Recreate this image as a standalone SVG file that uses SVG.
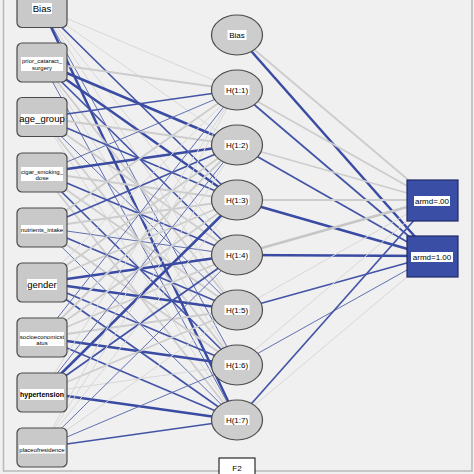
<svg xmlns="http://www.w3.org/2000/svg" width="474" height="474" viewBox="0 0 474 474">
<style>
.b1{stroke:#6270b0;stroke-width:1;fill:none}
.b2{stroke:#4354a6;stroke-width:1.7;fill:none}
.b3{stroke:#394ba2;stroke-width:2.5;fill:none}
.g1{stroke:#d8d8d8;stroke-width:1;fill:none}
.g2{stroke:#cdcdcd;stroke-width:1.8;fill:none}
.g3{stroke:#c6c6c6;stroke-width:2.6;fill:none}
.inp{fill:#c9c9c9;stroke:#4a4a4a;stroke-width:1.2}
.hid{fill:#cdcdcd;stroke:#4a4a4a;stroke-width:1.2}
.out{fill:#3b4ea6;stroke:#1e2a66;stroke-width:1.2}
.lb{fill:#ffffff}
text{font-family:"Liberation Sans",Arial,sans-serif;fill:#000000;text-anchor:middle}
.t9{font-size:9.5px}
.t8{font-size:8px}
.t6{font-size:6px}
</style>
<rect x="0" y="0" width="474" height="474" fill="#f0f0f0"/>
<path d="M3.5 -2 V471 H472 V-2" fill="none" stroke="#b8b8b8" stroke-width="1.5"/>
<g id="connectors">
<line x1="42" y1="8" x2="237" y2="90" class="g1"/>
<line x1="42" y1="8" x2="237" y2="145" class="g1"/>
<line x1="42" y1="8" x2="237" y2="200" class="b2"/>
<line x1="42" y1="8" x2="237" y2="255" class="g1"/>
<line x1="42" y1="8" x2="237" y2="310" class="g1"/>
<line x1="42" y1="8" x2="237" y2="365" class="b1"/>
<line x1="42" y1="8" x2="237" y2="420" class="b3"/>
<line x1="42" y1="62.5" x2="237" y2="90" class="g2"/>
<line x1="42" y1="62.5" x2="237" y2="145" class="b3"/>
<line x1="42" y1="62.5" x2="237" y2="200" class="b3"/>
<line x1="42" y1="62.5" x2="237" y2="255" class="b2"/>
<line x1="42" y1="62.5" x2="237" y2="310" class="g2"/>
<line x1="42" y1="62.5" x2="237" y2="365" class="g1"/>
<line x1="42" y1="62.5" x2="237" y2="420" class="b1"/>
<line x1="42" y1="117.5" x2="237" y2="90" class="b2"/>
<line x1="42" y1="117.5" x2="237" y2="145" class="g2"/>
<line x1="42" y1="117.5" x2="237" y2="200" class="b2"/>
<line x1="42" y1="117.5" x2="237" y2="255" class="g2"/>
<line x1="42" y1="117.5" x2="237" y2="310" class="b1"/>
<line x1="42" y1="117.5" x2="237" y2="365" class="g2"/>
<line x1="42" y1="117.5" x2="237" y2="420" class="g1"/>
<line x1="42" y1="172.5" x2="237" y2="90" class="b1"/>
<line x1="42" y1="172.5" x2="237" y2="145" class="b3"/>
<line x1="42" y1="172.5" x2="237" y2="200" class="g2"/>
<line x1="42" y1="172.5" x2="237" y2="255" class="b2"/>
<line x1="42" y1="172.5" x2="237" y2="310" class="g2"/>
<line x1="42" y1="172.5" x2="237" y2="365" class="b2"/>
<line x1="42" y1="172.5" x2="237" y2="420" class="g2"/>
<line x1="42" y1="227.5" x2="237" y2="90" class="g2"/>
<line x1="42" y1="227.5" x2="237" y2="145" class="b2"/>
<line x1="42" y1="227.5" x2="237" y2="200" class="g2"/>
<line x1="42" y1="227.5" x2="237" y2="255" class="b1"/>
<line x1="42" y1="227.5" x2="237" y2="310" class="b2"/>
<line x1="42" y1="227.5" x2="237" y2="365" class="g2"/>
<line x1="42" y1="227.5" x2="237" y2="420" class="b1"/>
<line x1="42" y1="282.5" x2="237" y2="90" class="g1"/>
<line x1="42" y1="282.5" x2="237" y2="145" class="g2"/>
<line x1="42" y1="282.5" x2="237" y2="200" class="g2"/>
<line x1="42" y1="282.5" x2="237" y2="255" class="b3"/>
<line x1="42" y1="282.5" x2="237" y2="310" class="b3"/>
<line x1="42" y1="282.5" x2="237" y2="365" class="b2"/>
<line x1="42" y1="282.5" x2="237" y2="420" class="b2"/>
<line x1="42" y1="337.5" x2="237" y2="90" class="b1"/>
<line x1="42" y1="337.5" x2="237" y2="145" class="g2"/>
<line x1="42" y1="337.5" x2="237" y2="200" class="g2"/>
<line x1="42" y1="337.5" x2="237" y2="255" class="g2"/>
<line x1="42" y1="337.5" x2="237" y2="310" class="g2"/>
<line x1="42" y1="337.5" x2="237" y2="365" class="b3"/>
<line x1="42" y1="337.5" x2="237" y2="420" class="b2"/>
<line x1="42" y1="392.5" x2="237" y2="90" class="g1"/>
<line x1="42" y1="392.5" x2="237" y2="145" class="b1"/>
<line x1="42" y1="392.5" x2="237" y2="200" class="b3"/>
<line x1="42" y1="392.5" x2="237" y2="255" class="b2"/>
<line x1="42" y1="392.5" x2="237" y2="310" class="g2"/>
<line x1="42" y1="392.5" x2="237" y2="365" class="g1"/>
<line x1="42" y1="392.5" x2="237" y2="420" class="b3"/>
<line x1="42" y1="447.5" x2="237" y2="90" class="g1"/>
<line x1="42" y1="447.5" x2="237" y2="145" class="g1"/>
<line x1="42" y1="447.5" x2="237" y2="200" class="g1"/>
<line x1="42" y1="447.5" x2="237" y2="255" class="b1"/>
<line x1="42" y1="447.5" x2="237" y2="310" class="g1"/>
<line x1="42" y1="447.5" x2="237" y2="365" class="b1"/>
<line x1="42" y1="447.5" x2="237" y2="420" class="b2"/>
<line x1="237" y1="35" x2="432" y2="200" class="g2"/>
<line x1="237" y1="35" x2="432" y2="256" class="b3"/>
<line x1="237" y1="90" x2="432" y2="200" class="g2"/>
<line x1="237" y1="90" x2="432" y2="256" class="b2"/>
<line x1="237" y1="145" x2="432" y2="200" class="g2"/>
<line x1="237" y1="145" x2="432" y2="256" class="b2"/>
<line x1="237" y1="200" x2="432" y2="200" class="g2"/>
<line x1="237" y1="200" x2="432" y2="256" class="b3"/>
<line x1="237" y1="255" x2="432" y2="200" class="g3"/>
<line x1="237" y1="255" x2="432" y2="256" class="b3"/>
<line x1="237" y1="310" x2="432" y2="200" class="g1"/>
<line x1="237" y1="310" x2="432" y2="256" class="b2"/>
<line x1="237" y1="365" x2="432" y2="200" class="g1"/>
<line x1="237" y1="365" x2="432" y2="256" class="b1"/>
<line x1="237" y1="420" x2="432" y2="200" class="b2"/>
<line x1="237" y1="420" x2="432" y2="256" class="g1"/>
</g>
<g id="in_bias"><rect x="17" y="-11.5" width="50" height="39" rx="5" class="inp"/><rect x="32" y="3" width="20" height="11" class="lb"/><text x="42" y="11.5" class="t9">Bias</text></g>
<g id="in_prior"><rect x="17" y="43" width="50" height="39" rx="5" class="inp"/><rect x="21" y="57" width="42" height="14" class="lb"/><text x="42" y="63" class="t6">prior_cataract_</text><text x="42" y="69.5" class="t6">surgery</text></g>
<g id="in_age"><rect x="17" y="97.5" width="50" height="39" rx="5" class="inp"/><rect x="21" y="114" width="42" height="11" class="lb"/><text x="42" y="122" class="t9">age_group</text></g>
<g id="in_cigar"><rect x="17" y="153" width="50" height="39" rx="5" class="inp"/><rect x="21" y="167" width="42" height="14" class="lb"/><text x="42" y="173.5" class="t6">cigar_smoking_</text><text x="42" y="180" class="t6">dose</text></g>
<g id="in_nutrients"><rect x="17" y="208" width="50" height="39" rx="5" class="inp"/><rect x="21" y="225" width="42" height="8.5" class="lb"/><text x="42" y="231.5" class="t6">nutrients_intake</text></g>
<g id="in_gender"><rect x="17" y="263" width="50" height="39" rx="5" class="inp"/><rect x="27" y="279" width="30" height="11" class="lb"/><text x="42" y="287.5" class="t9">gender</text></g>
<g id="in_socio"><rect x="17" y="318" width="50" height="39" rx="5" class="inp"/><rect x="20" y="332" width="44" height="14" class="lb"/><text x="42" y="338.5" class="t6">socioeconomicst</text><text x="42" y="345" class="t6">atus</text></g>
<g id="in_hyper"><rect x="17" y="373" width="50" height="39" rx="5" class="inp"/><rect x="20" y="389" width="44" height="11" class="lb"/><text x="42" y="397" font-size="7px" font-weight="bold">hypertension</text></g>
<g id="in_place"><rect x="17" y="428" width="50" height="39" rx="5" class="inp"/><rect x="19" y="445" width="46" height="8.5" class="lb"/><text x="42" y="451.5" class="t6">placeofresidence</text></g>
<g id="h_bias"><ellipse cx="237" cy="35" rx="25.5" ry="20" class="hid"/><rect x="227.5" y="30" width="19" height="10" class="lb"/><text x="237" y="38" class="t8">Bias</text></g>
<g id="h1"><ellipse cx="237" cy="90" rx="25.5" ry="20" class="hid"/><rect x="224.5" y="85" width="25" height="10" class="lb"/><text x="237" y="93" class="t8">H(1:1)</text></g>
<g id="h2"><ellipse cx="237" cy="145" rx="25.5" ry="20" class="hid"/><rect x="224.5" y="140" width="25" height="10" class="lb"/><text x="237" y="148" class="t8">H(1:2)</text></g>
<g id="h3"><ellipse cx="237" cy="200" rx="25.5" ry="20" class="hid"/><rect x="224.5" y="195" width="25" height="10" class="lb"/><text x="237" y="203" class="t8">H(1:3)</text></g>
<g id="h4"><ellipse cx="237" cy="255" rx="25.5" ry="20" class="hid"/><rect x="224.5" y="250" width="25" height="10" class="lb"/><text x="237" y="258" class="t8">H(1:4)</text></g>
<g id="h5"><ellipse cx="237" cy="310" rx="25.5" ry="20" class="hid"/><rect x="224.5" y="305" width="25" height="10" class="lb"/><text x="237" y="313" class="t8">H(1:5)</text></g>
<g id="h6"><ellipse cx="237" cy="365" rx="25.5" ry="20" class="hid"/><rect x="224.5" y="360" width="25" height="10" class="lb"/><text x="237" y="368" class="t8">H(1:6)</text></g>
<g id="h7"><ellipse cx="237" cy="420" rx="25.5" ry="20" class="hid"/><rect x="224.5" y="415" width="25" height="10" class="lb"/><text x="237" y="423" class="t8">H(1:7)</text></g>
<g id="out0"><rect x="407" y="180" width="51" height="41" class="out"/><rect x="414" y="196" width="36" height="10" class="lb"/><text x="432" y="204" class="t8">armd=.00</text></g>
<g id="out1"><rect x="407" y="236" width="51" height="41" class="out"/><rect x="411" y="252" width="42" height="10" class="lb"/><text x="432" y="260" class="t8">armd=1.00</text></g>
<g id="f2"><rect x="219" y="458" width="36" height="20" fill="#ffffff" stroke="#000000" stroke-width="1"/><text x="237" y="471" class="t8">F2</text></g>
</svg>
